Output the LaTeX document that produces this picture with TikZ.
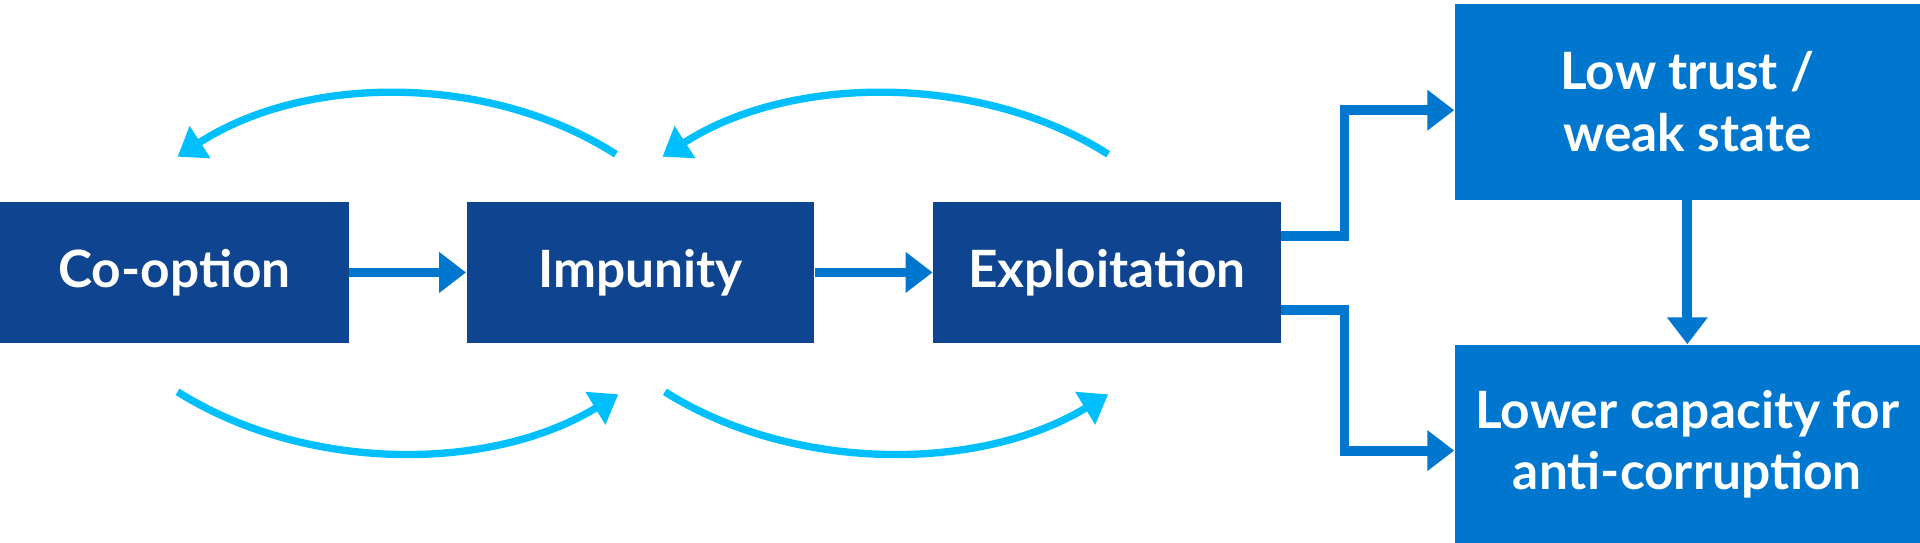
\documentclass[tikz,border=0pt]{standalone}
\usepackage{fontspec}
\setmainfont{Lato}
\usetikzlibrary{arrows.meta}
\definecolor{dk}{HTML}{0E4490}
\definecolor{md}{HTML}{0077CF}
\definecolor{cy}{HTML}{00BFFF}
\begin{document}
\begin{tikzpicture}[x=0.5pt,y=-0.5pt,
 box/.style={fill=#1,draw=none,text=white,font=\fontsize{21}{25}\selectfont\bfseries,align=center,inner sep=0},
 arr/.style={draw=md,line width=4pt,-{Triangle[length=11pt,width=16pt]}},
 loop/.style={draw=cy,line width=3pt,-{Triangle[length=11pt,width=15pt]}}]
\useasboundingbox (0,0) rectangle (1568,443);
\node[box=dk,minimum width=142.5pt,minimum height=57.5pt] (co) at (142.5,222.5) {Co-option};
\node[box=dk,minimum width=142pt,minimum height=57.5pt] (im) at (523,222.5) {Impunity};
\node[box=dk,minimum width=142pt,minimum height=57.5pt] (ex) at (904,222.5) {Exploitation};
\node[box=md,minimum width=190pt,minimum height=80pt] (lt) at (1378,83) {Low trust /\\weak state};
\node[box=md,minimum width=190pt,minimum height=81pt] (lc) at (1378,362.5) {Lower capacity for\\anti-corruption};
\draw[arr] (co.east) -- (im.west);
\draw[arr] (im.east) -- (ex.west);
\draw[arr] (ex.east |- 0,193) -| (1098,90) -- (lt.west |- 0,90);
\draw[arr] (ex.east |- 0,253) -| (1098,368) -- (lc.west |- 0,368);
\draw[arr] (lt.south) -- (lc.north);
\coordinate (a1) at (503,126); \coordinate (a2) at (145,128);
\coordinate (b1) at (905,126); \coordinate (b2) at (541,128);
\coordinate (c1) at (145,320); \coordinate (c2) at (505,322);
\coordinate (d1) at (543,320); \coordinate (d2) at (905,322);
\draw[loop] (a1) .. controls (400,60) and (250,60) .. (a2);
\draw[loop] (b1) .. controls (802,60) and (646,60) .. (b2);
\draw[loop] (c1) .. controls (250,386) and (400,386) .. (c2);
\draw[loop] (d1) .. controls (648,386) and (800,386) .. (d2);
\end{tikzpicture}
\end{document}
